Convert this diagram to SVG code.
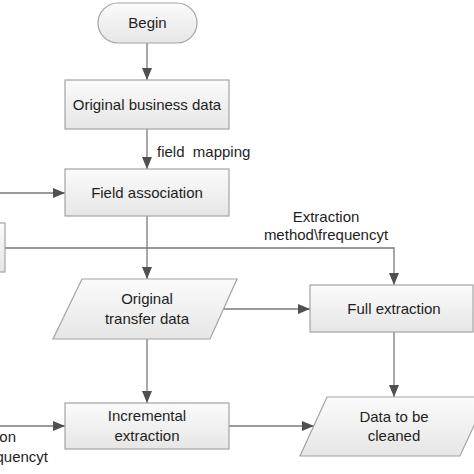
<svg xmlns="http://www.w3.org/2000/svg" width="474" height="474" viewBox="0 0 474 474">
<style>
.node{stroke:#a3a3a3;stroke-width:1.2;fill:url(#g)}
.t{font-family:"Liberation Sans",Arial,sans-serif;font-size:15px;fill:#1e1e1e;text-anchor:middle}
.l{font-family:"Liberation Sans",Arial,sans-serif;font-size:15px;fill:#1e1e1e}
.c{fill:none;stroke:#7a7a7a;stroke-width:1.3}
.a{marker-end:url(#ah)}
</style>
<defs>
<linearGradient id="g" x1="0" y1="0" x2="0" y2="1">
<stop offset="0" stop-color="#fbfbfb"/>
<stop offset="1" stop-color="#e6e6e6"/>
</linearGradient>
<marker id="ah" markerUnits="userSpaceOnUse" markerWidth="12" markerHeight="10" viewBox="0 0 12 10" refX="12" refY="5" orient="auto">
<path d="M0,0 L12,5 L0,10 Z" fill="#505050"/>
</marker>
</defs>
<rect width="474" height="474" fill="#fff"/>
<g id="connectors">
<line class="c a" x1="147" y1="43" x2="147" y2="80"/>
<line class="c a" x1="147" y1="129" x2="147" y2="169"/>
<line class="c a" x1="0" y1="193" x2="65" y2="193"/>
<polyline class="c a" points="5,248 394,248 394,285"/>
<line class="c a" x1="147" y1="216" x2="147" y2="279"/>
<line class="c a" x1="224" y1="309" x2="310" y2="309"/>
<line class="c a" x1="394" y1="332" x2="394" y2="397"/>
<line class="c a" x1="147" y1="339" x2="147" y2="403"/>
<line class="c a" x1="0" y1="426" x2="65" y2="426"/>
<line class="c a" x1="229" y1="426" x2="314" y2="426"/>
<text class="l" x="157" y="157" xml:space="preserve">field  mapping</text>
<text class="t" x="326" y="222">Extraction</text>
<text class="t" x="326" y="240">method\frequencyt</text>
<text class="l" x="16" y="442" text-anchor="end">Extraction</text>
<text class="l" x="48" y="462" text-anchor="end">method\frequencyt</text>
</g>
<g id="begin">
<rect class="node" x="98" y="3" width="99" height="40" rx="20"/>
<text class="t" x="147.5" y="28">Begin</text>
</g>
<g id="original-business-data">
<rect class="node" x="65" y="80" width="164" height="49"/>
<text class="t" x="147" y="110">Original business data</text>
</g>
<g id="field-association">
<rect class="node" x="65" y="169" width="164" height="47"/>
<text class="t" x="147" y="198">Field association</text>
</g>
<g id="left-box">
<rect class="node" x="-40" y="223" width="45" height="49"/>
</g>
<g id="original-transfer-data">
<polygon class="node" points="82,279 237,279 210,339 53,339"/>
<text class="t" x="147" y="304">Original</text>
<text class="t" x="147" y="324">transfer data</text>
</g>
<g id="full-extraction">
<rect class="node" x="310" y="285" width="163" height="47"/>
<text class="t" x="394" y="314">Full extraction</text>
</g>
<g id="incremental-extraction">
<rect class="node" x="65" y="403" width="164" height="46"/>
<text class="t" x="147" y="421">Incremental</text>
<text class="t" x="147" y="441">extraction</text>
</g>
<g id="data-to-be-cleaned">
<polygon class="node" points="327,397 487,397 460,456 300,456"/>
<text class="t" x="394" y="422">Data to be</text>
<text class="t" x="394" y="441">cleaned</text>
</g>
</svg>
